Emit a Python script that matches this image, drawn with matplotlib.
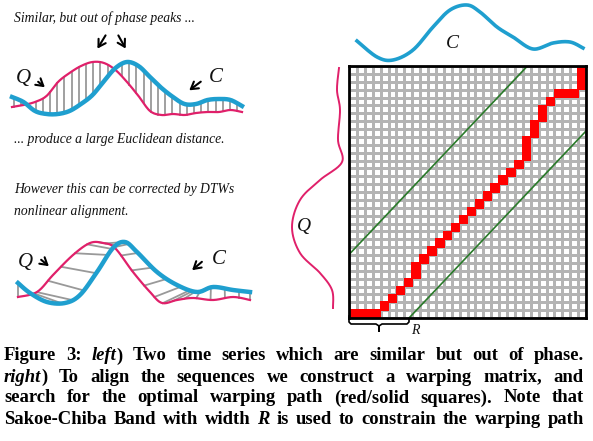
import numpy as np
import matplotlib
matplotlib.use("Agg")
import matplotlib.pyplot as plt
from matplotlib.colors import ListedColormap

# ---- data (pixel-space sketches of the series) ----
top_x = [12, 23.5, 35, 46.5, 58, 69.5, 81, 92.5, 104, 115.5, 127, 138.5, 150, 161.5, 173, 184.5, 196, 207.5, 219, 230.5, 242]
top_Q = [107, 105, 102, 96, 82, 73, 66, 62, 63, 70, 82, 96, 111, 115, 114, 115, 113, 112, 112, 110, 112]
top_C = [97, 102, 111, 114, 114, 111, 104, 95, 81, 68, 62, 66, 77, 88, 97, 104, 104, 100, 99, 100, 106]

bot_Qx = [18, 37, 53, 73, 90, 103, 115, 133, 150, 162, 177, 193, 213, 233, 250]
bot_Qy = [297, 292, 275, 255, 243, 243, 248, 272, 292, 303, 300, 298, 300, 297, 300]
bot_Cx = [18, 30, 47, 65, 80, 97, 113, 125, 137, 157, 177, 197, 213, 233, 250]
bot_Cy = [283, 293, 302, 303, 295, 272, 248, 242, 252, 272, 285, 292, 287, 290, 292]

mat_C_x = [357, 377, 393, 413, 433, 450, 467, 480, 497, 513, 533, 553, 570, 583]
mat_C_y = [41, 57, 60, 50, 27, 10, 5, 12, 27, 37, 49, 43, 42, 48]
mat_Q_x = [339, 337, 340, 338, 342, 320, 300, 292, 300, 320, 332, 333]
mat_Q_y = [68, 90, 110, 140, 162, 180, 200, 227, 253, 273, 290, 308]

n_cols, n_rows = 30, 32
warp_path = [(0,0),(1,0),(2,0),(3,0),(4,1),(5,2),(6,3),(7,4),(8,5),(8,6),(9,7),(10,8),(11,9),
             (12,10),(13,11),(14,12),(15,13),(16,14),(17,15),(18,16),(19,17),(20,18),(21,19),
             (22,20),(22,21),(22,22),(23,23),(23,24),(24,25),(24,26),(25,27),(26,28),(27,28),
             (28,28),(29,29),(29,30),(29,31)]
band_R = 7.6
band_slope = 1.06

caption = [
    [("Figure 3: ", "b"), ("left", "bi"), (") Two time series which are similar but out of phase.", "b")],
    [("right", "bi"), (") To align the sequences we construct a warping matrix, and", "b")],
    [("search for the optimal warping path (red/solid squares). Note that", "b")],
    [("Sakoe-Chiba Band with width ", "b"), ("R", "bi"), (" is used to constrain the warping path", "b")],
]

PINK = "#e0206a"
BLUE = "#1f9fcf"
GREY = "#999999"
SERIF = "Liberation Serif"

W, H = 593, 441
fig = plt.figure(figsize=(W/100, H/100), dpi=100)
ax = fig.add_axes([0, 0, 1, 1])
ax.set_xlim(0, W); ax.set_ylim(H, 0); ax.axis("off")

def smooth(xs, ys, n=200):
    xs = np.asarray(xs, float); ys = np.asarray(ys, float)
    tt = np.linspace(0, len(xs)-1, n)
    def cr(p):
        out = []
        P = np.concatenate([[p[0]], p, [p[-1]]])
        for v in tt:
            i = int(min(np.floor(v), len(p)-2)); u = v - i
            p0, p1, p2, p3 = P[i], P[i+1], P[i+2], P[i+3]
            out.append(0.5*((2*p1)+(-p0+p2)*u+(2*p0-5*p1+4*p2-p3)*u**2+(-p0+3*p1-3*p2+p3)*u**3))
        return np.array(out)
    return cr(xs), cr(ys)

# --- top-left panel ---
qx, qy = smooth(top_x, top_Q); cx, cy = smooth(top_x, top_C)
for x in np.arange(14, 243, 7.2):
    ax.plot([x, x], [np.interp(x, qx, qy), np.interp(x, cx, cy)], color=GREY, lw=1.3, zorder=1)
ax.plot(qx, qy, color=PINK, lw=1.6, zorder=2)
ax.plot(cx, cy, color=BLUE, lw=3.2, zorder=3)

# --- bottom-left panel with DTW alignment ---
bqx, bqy = smooth(bot_Qx, bot_Qy, 100); bcx, bcy = smooth(bot_Cx, bot_Cy, 100)
n = len(bqy)
D = np.full((n+1, n+1), np.inf); D[0, 0] = 0
cost = (bqy[:, None] - bcy[None, :])**2 + 0.15*(bqx[:, None] - bcx[None, :])**2
for i in range(1, n+1):
    for j in range(1, n+1):
        D[i, j] = cost[i-1, j-1] + min(D[i-1, j], D[i, j-1], D[i-1, j-1])
i, j = n, n; pairs = []
while i > 0 and j > 0:
    pairs.append((i-1, j-1))
    k = np.argmin([D[i-1, j-1], D[i-1, j], D[i, j-1]])
    if k == 0: i, j = i-1, j-1
    elif k == 1: i -= 1
    else: j -= 1
pairs = pairs[::-1]
for a, b in pairs[::5]:
    ax.plot([bqx[a], bcx[b]], [bqy[a], bcy[b]], color=GREY, lw=1.3, zorder=1)
ax.plot(bqx, bqy, color=PINK, lw=1.6, zorder=2)
ax.plot(bcx, bcy, color=BLUE, lw=3.2, zorder=3)

# --- left texts and arrows ---
it = dict(family=SERIF, style="italic", color="#111111")
ax.text(14, 18, "Similar, but out of phase peaks ...", fontsize=9.8, va="center", **it)
ax.text(14, 140, "... produce a large Euclidean distance.", fontsize=9.8, va="center", **it)
ax.text(14, 190, "However this can be corrected by DTWs", fontsize=9.8, va="center", **it)
ax.text(14, 211, "nonlinear alignment.", fontsize=9.8, va="center", **it)
for (tx, ty, s) in [(16, 78, "Q"), (209, 77, "C"), (18, 262, "Q"), (212, 260, "C")]:
    ax.text(tx, ty, s, fontsize=15, va="center", **it)
arrow = dict(arrowstyle="->,head_length=0.5,head_width=0.3", color="black", lw=1.5)
for (x0, y0, x1, y1) in [(107, 33, 96, 51), (117, 33, 127, 51), (36, 80, 47, 89),
                         (203, 80, 187, 92), (39, 258, 51, 268), (204, 260, 190, 272)]:
    ax.annotate("", xy=(x1, y1), xytext=(x0, y0), arrowprops=arrow)

# --- right side series ---
mcx, mcy = smooth(mat_C_x, mat_C_y); ax.plot(mcx, mcy, color=BLUE, lw=2.6)
mqx, mqy = smooth(mat_Q_x, mat_Q_y); ax.plot(mqx, mqy, color=PINK, lw=1.4)
ax.text(446, 44, "C", fontsize=14, va="center", **it)
ax.text(297, 226, "Q", fontsize=14, va="center", **it)

# brace under matrix
bx0, bx1, by = 349, 409, 316
mid = (bx0 + bx1) / 2
verts = [(bx0, by), (bx0, by+6), (bx0+2, by+8), (mid-3, by+8), (mid, by+10),
         (mid, by+15), (mid, by+10), (mid+3, by+8), (bx1-2, by+8), (bx1, by+6), (bx1, by)]
ax.plot([v[0] for v in verts], [v[1] for v in verts], color="black", lw=1.2)
ax.text(411, 330, "R", fontsize=10, va="center", **it)

# --- warping matrix ---
mx0, mx1, my0, my1 = 349, 586, 66, 318
axm = fig.add_axes([mx0/W, 1-my1/H, (mx1-mx0)/W, (my1-my0)/H])
grid = np.zeros((n_rows, n_cols))
for c, r in warp_path:
    grid[r, c] = 1
axm.pcolormesh(np.arange(n_cols+1), np.arange(n_rows+1), grid, cmap=ListedColormap(["white", "#ff0000"]),
               edgecolors="#b4b4b4", linewidth=1.8)
for c, r in warp_path:
    axm.add_patch(plt.Rectangle((c-0.1, r-0.1), 1.2, 1.2, color="#ff0000", lw=0, zorder=3))
xs = np.array([0, n_cols])
up_off = band_slope * band_R
axm.plot(xs, band_slope*xs + up_off, color="#2a7a2a", lw=1.2, zorder=4)
axm.plot(xs, band_slope*(xs - band_R), color="#2a7a2a", lw=1.2, zorder=4)
axm.set_xlim(0, n_cols); axm.set_ylim(0, n_rows)
axm.set_xticks([]); axm.set_yticks([])
for s in axm.spines.values():
    s.set_linewidth(2); s.set_zorder(5)

# --- justified caption ---
fig.canvas.draw()
r = fig.canvas.get_renderer()
L, R = 4, 584
ys = [356, 377, 398, 419]
def style(st):
    return dict(family=SERIF, fontsize=13.4, weight="bold", style="italic" if "i" in st else "normal")
for line, y in zip(caption, ys):
    tokens = []
    prev_space = True
    for txt, st in line:
        parts = txt.split(" ")
        for k, p in enumerate(parts):
            if p == "":
                continue
            attach = (k == 0 and not prev_space and tokens)
            if attach:
                tokens[-1].append((p, st))
            else:
                tokens.append([(p, st)])
        prev_space = txt.endswith(" ")
    widths = []
    for tok in tokens:
        w = 0
        for p, st in tok:
            t = ax.text(0, 0, p, **style(st)); w += t.get_window_extent(r).width; t.remove()
        widths.append(w)
    gap = (R - L - sum(widths)) / (len(tokens) - 1)
    x = L
    for tok, w in zip(tokens, widths):
        xx = x
        for p, st in tok:
            t = ax.text(xx, y, p, va="center", **style(st))
            xx += t.get_window_extent(r).width
        x += w + gap

fig.savefig("out.png", dpi=100)
